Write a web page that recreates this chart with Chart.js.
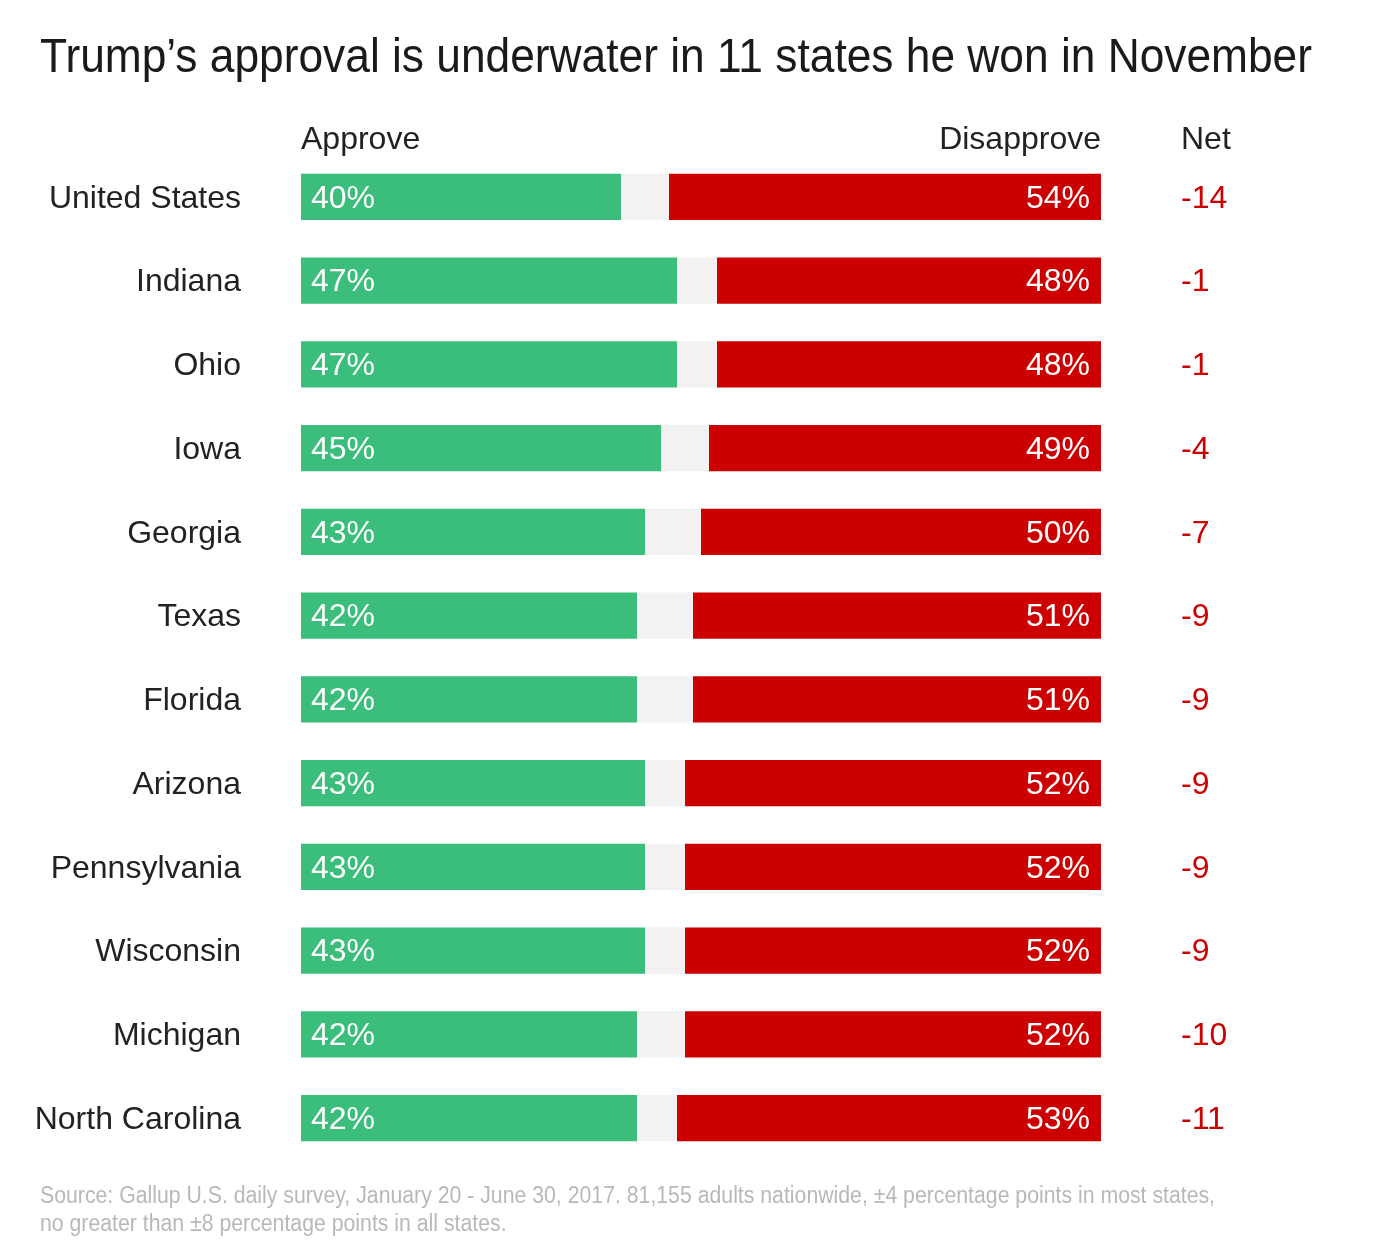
<!DOCTYPE html>
<html>
<head>
<meta charset="utf-8">
<script src="https://cdn.jsdelivr.net/npm/chart.js@4.4.0/dist/chart.umd.min.js"></script>
<style>
  html, body { margin: 0; padding: 0; background: #fff; }
  #wrap { width: 1380px; height: 1260px; position: relative; }
</style>
</head>
<body>
<div id="wrap"><canvas id="chart"></canvas></div>
<script>
const states = ['United States', 'Indiana', 'Ohio', 'Iowa', 'Georgia', 'Texas', 'Florida', 'Arizona', 'Pennsylvania', 'Wisconsin', 'Michigan', 'North Carolina'];
const approve = [40, 47, 47, 45, 43, 42, 42, 43, 43, 43, 42, 42];
const noOpinion = [6, 5, 5, 6, 7, 7, 7, 5, 5, 5, 6, 5];
const disapprove = [54, 48, 48, 49, 50, 51, 51, 52, 52, 52, 52, 53];
const net = [-14, -1, -1, -4, -7, -9, -9, -9, -9, -9, -10, -11];

const titleText = 'Trump\u2019s approval is underwater in 11 states he won in November';
const sourceLines = [
    'Source: Gallup U.S. daily survey, January 20 - June 30, 2017. 81,155 adults nationwide, \u00b14 percentage points in most states,',
    'no greater than \u00b18 percentage points in all states.'
];

const bodyFont = '"Liberation Sans", Arial, sans-serif';

// draws a string squeezed to a given width
function fitText(ctx, text, x, y, width) {
    let w = ctx.measureText(text).width;
    ctx.save();
    ctx.translate(x, y);
    ctx.scale(width / w, 1);
    ctx.fillText(text, 0, 0);
    ctx.restore();
    return width / w;
}

const extras = {
    id: 'extras',
    afterDatasetsDraw(chart) {
        const ctx = chart.ctx;
        const x = chart.scales.x;
        const y = chart.scales.y;
        ctx.save();
        ctx.textBaseline = 'alphabetic';

        // title
        ctx.fillStyle = '#1a1a1a';
        ctx.font = '49px ' + bodyFont;
        ctx.textAlign = 'left';
        fitText(ctx, titleText, 40, 72, 1272);

        // column headers
        ctx.font = '32px ' + bodyFont;
        ctx.fillStyle = '#222';
        ctx.textAlign = 'left';
        ctx.fillText('Approve', x.getPixelForValue(0), 149);
        ctx.textAlign = 'right';
        ctx.fillText('Disapprove', x.getPixelForValue(100), 149);
        ctx.textAlign = 'left';
        ctx.fillText('Net', 1181, 149);

        // bar labels and net values
        ctx.textBaseline = 'middle';
        for (let i = 0; i < states.length; i++) {
            let py = y.getPixelForValue(i) + 2;
            ctx.fillStyle = '#fff';
            ctx.textAlign = 'left';
            ctx.fillText(approve[i] + '%', x.getPixelForValue(0) + 10, py);
            ctx.textAlign = 'right';
            ctx.fillText(disapprove[i] + '%', x.getPixelForValue(100) - 11, py);
            ctx.fillStyle = '#cc0000';
            ctx.textAlign = 'left';
            ctx.fillText(String(net[i]), 1181, py);
        }

        // source
        ctx.textBaseline = 'alphabetic';
        ctx.fillStyle = '#b8b8b8';
        ctx.font = '23px ' + bodyFont;
        ctx.textAlign = 'left';
        let k = fitText(ctx, sourceLines[0], 40, 1203, 1175);
        fitText(ctx, sourceLines[1], 40, 1231, ctx.measureText(sourceLines[1]).width * k);
        ctx.restore();
    }
};

new Chart(document.getElementById('chart'), {
    type: 'bar',
    data: {
        labels: states,
        datasets: [
            { label: 'Approve', data: approve, backgroundColor: '#3bbd7b' },
            { label: 'No opinion', data: noOpinion, backgroundColor: '#f2f2f2' },
            { label: 'Disapprove', data: disapprove, backgroundColor: '#cc0000' }
        ]
    },
    options: {
        indexAxis: 'y',
        responsive: true,
        maintainAspectRatio: false,
        animation: false,
        categoryPercentage: 1,
        barPercentage: 0.55,
        layout: {
            padding: { top: 155, bottom: 100, left: 0, right: 279 }
        },
        scales: {
            x: {
                stacked: true,
                min: 0,
                max: 100,
                display: false
            },
            y: {
                stacked: true,
                grid: { display: false, drawTicks: false },
                border: { display: false },
                ticks: {
                    color: '#222',
                    font: { size: 32, family: bodyFont },
                    padding: 60,
                    labelOffset: 2
                },
                afterFit(scale) { scale.width = 301; }
            }
        },
        plugins: {
            legend: { display: false },
            tooltip: { enabled: false }
        }
    },
    plugins: [extras]
});
</script>
</body>
</html>
